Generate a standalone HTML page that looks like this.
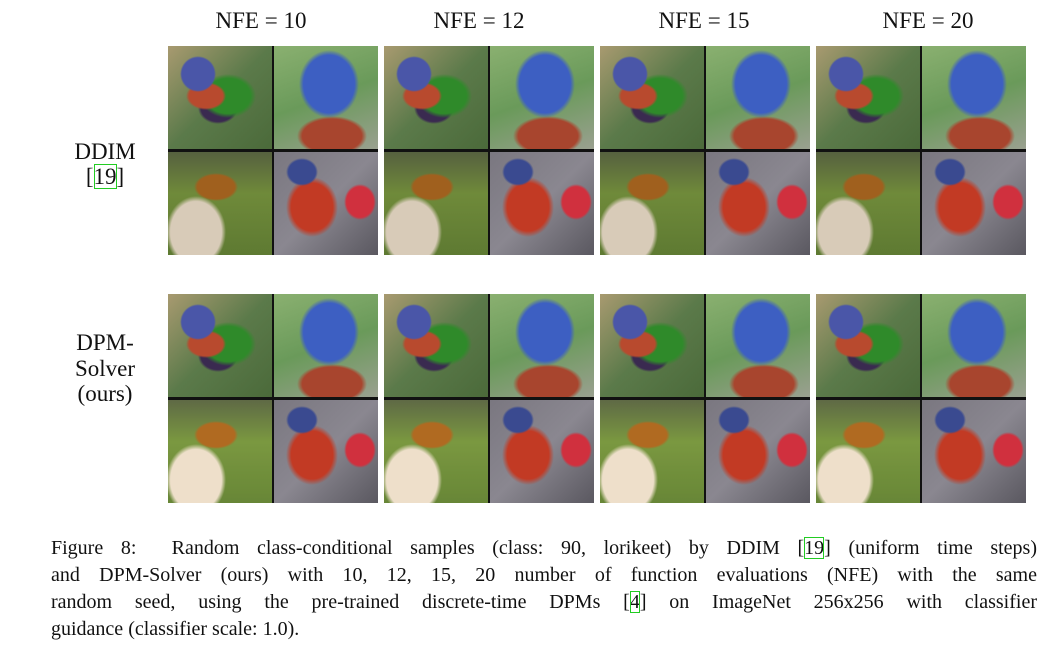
<!DOCTYPE html>
<html><head><meta charset="utf-8"><style>
body{margin:0;width:1049px;height:655px;background:#fff;position:relative;overflow:hidden;font-family:"Liberation Serif",serif;color:#111}
.t{position:absolute;font-size:23px;text-align:center;white-space:nowrap}
.blk{position:absolute;width:210px;height:209px;background:#111}
.q{position:absolute;width:104px;height:103px}
.tl{left:0;top:0;background:
radial-gradient(ellipse 18px 18px at 30px 28px,#4a56a8 90%,transparent 100%),
radial-gradient(ellipse 20px 14px at 38px 50px,#b84a2e 85%,transparent 100%),
radial-gradient(ellipse 28px 22px at 60px 50px,#2f8a2a 80%,transparent 100%),
radial-gradient(ellipse 20px 16px at 50px 62px,#3a2a50 85%,transparent 100%),
linear-gradient(135deg,#a89a70,#5b7a4a 50%,#4b6a3a)}
.tr{left:106px;top:0;background:
radial-gradient(ellipse 30px 34px at 55px 38px,#3d5fc2 85%,transparent 100%),
radial-gradient(ellipse 35px 20px at 58px 90px,#a8452e 85%,transparent 100%),
linear-gradient(160deg,#8ab070,#6a9a5a 50%,#9aa090)}
.bl{left:0;top:106px;background:
radial-gradient(ellipse 30px 36px at 28px 80px,#d8cbb8 85%,transparent 100%),
radial-gradient(ellipse 22px 14px at 48px 35px,#a0601e 85%,transparent 100%),
linear-gradient(180deg,#56603f,#6f8a3a 40%,#5e7a32)}
.br{left:106px;top:106px;background:
radial-gradient(ellipse 16px 14px at 28px 20px,#3a4a90 85%,transparent 100%),
radial-gradient(ellipse 26px 30px at 38px 55px,#c23a24 80%,transparent 100%),
radial-gradient(ellipse 16px 18px at 86px 50px,#d0303e 85%,transparent 100%),
linear-gradient(135deg,#7a7780,#8a8790 50%,#5a5860)}
.cap{position:absolute;left:51px;width:986px;font-size:20px;text-align:justify;text-align-last:justify;white-space:nowrap}
.g{outline:1.5px solid #2c2;outline-offset:-1px}
</style></head><body>
<div class="t" style="left:161px;top:8px;width:200px">NFE = 10</div>
<div class="t" style="left:379px;top:8px;width:200px">NFE = 12</div>
<div class="t" style="left:604px;top:8px;width:200px">NFE = 15</div>
<div class="t" style="left:828px;top:8px;width:200px">NFE = 20</div>
<div class="t" style="left:55px;top:139px;width:100px;line-height:25px">DDIM<br>[<span class="g">19</span>]</div>
<div class="t" style="left:55px;top:330px;width:100px;line-height:25.5px">DPM-<br>Solver<br>(ours)</div>

<div class="blk" style="left:168px;top:46px"><div class="q tl"></div><div class="q tr"></div><div class="q bl"></div><div class="q br"></div></div>
<div class="blk" style="left:384px;top:46px"><div class="q tl"></div><div class="q tr"></div><div class="q bl"></div><div class="q br"></div></div>
<div class="blk" style="left:600px;top:46px"><div class="q tl"></div><div class="q tr"></div><div class="q bl"></div><div class="q br"></div></div>
<div class="blk" style="left:816px;top:46px"><div class="q tl"></div><div class="q tr"></div><div class="q bl"></div><div class="q br"></div></div>

<div class="blk" style="left:168px;top:294px"><div class="q tl"></div><div class="q tr"></div><div class="q bl" style="filter:brightness(1.1)"></div><div class="q br"></div></div>
<div class="blk" style="left:384px;top:294px"><div class="q tl"></div><div class="q tr"></div><div class="q bl" style="filter:brightness(1.1)"></div><div class="q br"></div></div>
<div class="blk" style="left:600px;top:294px"><div class="q tl"></div><div class="q tr"></div><div class="q bl" style="filter:brightness(1.1)"></div><div class="q br"></div></div>
<div class="blk" style="left:816px;top:294px"><div class="q tl"></div><div class="q tr"></div><div class="q bl" style="filter:brightness(1.1)"></div><div class="q br"></div></div>

<div class="cap" style="top:537px">Figure 8:&nbsp; Random class-conditional samples (class: 90, lorikeet) by DDIM [<span class="g">19</span>] (uniform time steps)</div>
<div class="cap" style="top:564px">and DPM-Solver (ours) with 10, 12, 15, 20 number of function evaluations (NFE) with the same</div>
<div class="cap" style="top:591px">random seed, using the pre-trained discrete-time DPMs [<span class="g">4</span>] on ImageNet 256x256 with classifier</div>
<div class="cap" style="top:618px;text-align-last:left">guidance (classifier scale: 1.0).</div>
</body></html>
